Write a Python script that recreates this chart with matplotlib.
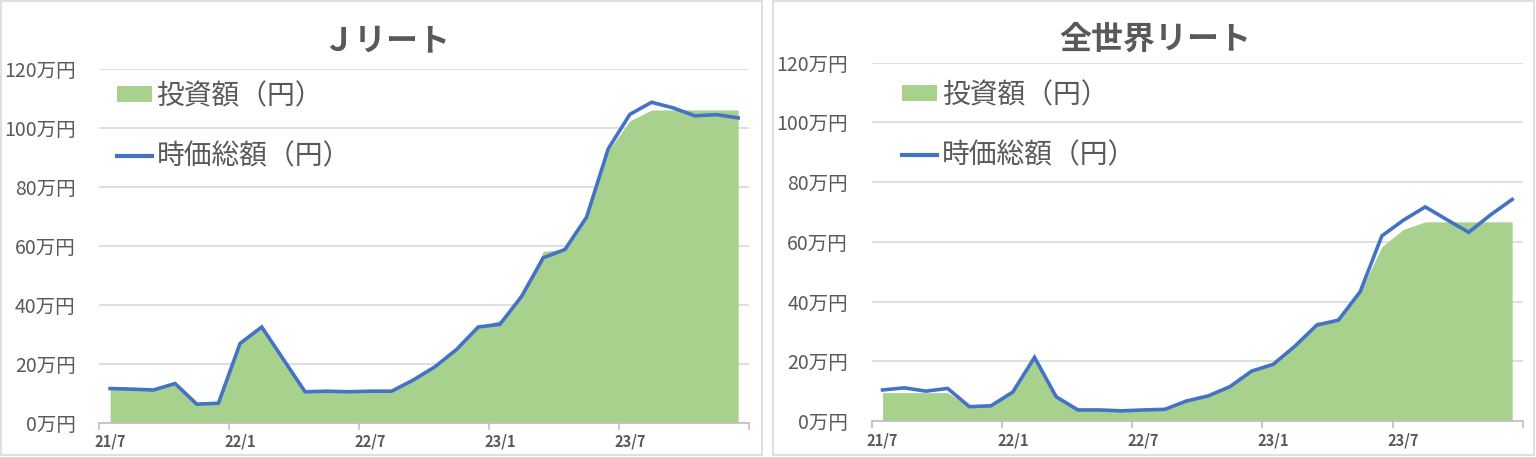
import matplotlib.pyplot as plt
from matplotlib.patches import Rectangle, Patch
from matplotlib.lines import Line2D

plt.rcParams['font.family'] = ['Noto Sans CJK JP', 'DejaVu Sans']

# monthly data, 21/7 .. 23/12 (values in 万円)
tick_labels = ['21/7', '22/1', '22/7', '23/1', '23/7']

jreit_invest = [11.6, 11.4, 11.1, 13.3, 6.3, 6.6, 26.9, 32.5, 21.5, 10.5,
                10.7, 10.5, 10.7, 10.7, 14.5, 19.0, 24.9, 32.5, 34.8, 42.9,
                58.2, 58.8, 69.8, 92.3, 102.5, 106.2, 106.2, 106.2, 106.2, 106.2]
jreit_value = [11.6, 11.4, 11.1, 13.3, 6.3, 6.6, 26.9, 32.5, 21.5, 10.5,
               10.7, 10.5, 10.7, 10.7, 14.5, 19.0, 24.9, 32.5, 33.4, 42.9,
               56.0, 58.8, 69.8, 93.0, 104.7, 108.8, 106.9, 104.2, 104.6, 103.5]

world_invest = [9.5, 9.5, 9.5, 9.5, 4.8, 5.1, 9.7, 21.3, 8.1, 3.7,
                3.7, 3.4, 3.7, 3.9, 6.7, 8.4, 11.5, 16.7, 19.0, 25.1,
                33.2, 33.8, 43.3, 58.4, 64.2, 66.7, 66.7, 66.7, 66.7, 66.7]
world_value = [10.4, 11.1, 10.0, 10.9, 4.8, 5.1, 9.7, 21.3, 8.1, 3.7,
               3.7, 3.4, 3.7, 3.9, 6.7, 8.4, 11.5, 16.7, 19.0, 25.1,
               32.1, 33.8, 43.3, 62.0, 67.3, 71.7, 67.4, 63.2, 69.0, 74.2]

green = '#A9D18E'
blue = '#4472C4'
txt = '#595959'
grid = '#D9D9D9'

W, H = 1536, 457
fig = plt.figure(figsize=(W/100, H/100), dpi=100, facecolor='white')


def panel(rect, box, title, title_xy, invest, value, leg_anchor):
    # chart frame
    fig.patches.append(Rectangle((box[0]/W, 1-box[3]/H), (box[2]-box[0])/W, (box[3]-box[1])/H,
                                 transform=fig.transFigure, fill=False, ec=grid, lw=1.2))
    ax = fig.add_axes(rect)
    x = list(range(len(value)))
    ax.fill_between(x, invest, 0, color=green, lw=0, zorder=2)
    ax.plot(x, value, color=blue, lw=2.6, zorder=3, solid_joinstyle='miter')

    ax.set_xlim(-0.5, len(value)-0.5)
    ax.set_ylim(0, 120)
    ax.set_yticks(range(0, 121, 20))
    ax.set_yticklabels([f'{v}万円' for v in range(0, 121, 20)], fontsize=14, color=txt)
    ax.yaxis.grid(True, color=grid, lw=1.2)
    ax.set_axisbelow(True)
    ax.tick_params(axis='y', length=0, pad=17)

    ax.set_xticks([i-0.5 for i in range(0, len(value)+1, 6)])
    ax.set_xticklabels([])
    ax.set_xticks(range(0, len(value), 6), minor=True)
    ax.set_xticklabels(tick_labels, minor=True, fontsize=10.5, fontweight='bold', color=txt)
    ax.tick_params(axis='x', which='major', length=5, color='#BFBFBF', width=1.2)
    ax.tick_params(axis='x', which='minor', length=0, pad=8)

    for s in ['top', 'right', 'left']:
        ax.spines[s].set_visible(False)
    ax.spines['bottom'].set_color('#BFBFBF')
    ax.spines['bottom'].set_linewidth(1.2)

    fig.text(title_xy[0]/W, 1-title_xy[1]/H, title, ha='center', va='center',
             fontsize=23, fontweight='bold', color=txt)

    handles = [Patch(color=green, lw=0), Line2D([], [], color=blue, lw=3)]
    ax.legend(handles, ['投資額（円）', '時価総額（円）'], loc='upper left',
              bbox_to_anchor=leg_anchor, frameon=False, fontsize=20,
              labelcolor=txt, handlelength=1.25, handleheight=0.47,
              handletextpad=0.18, labelspacing=1.1, borderaxespad=0, borderpad=0)
    return ax


panel([99.3/W, 1-422.7/H, 649.7/W, 353.4/H], (1, 1, 762, 455), 'Ｊリート', (386, 41),
      jreit_invest, jreit_value, (0.027, 0.967))
panel([871.7/W, 1-421/H, 651.3/W, 358.3/H], (773, 1, 1534, 455), '全世界リート', (1155, 40),
      world_invest, world_value, (0.0465, 0.952))

plt.savefig('out.png', dpi=100, facecolor='white')
